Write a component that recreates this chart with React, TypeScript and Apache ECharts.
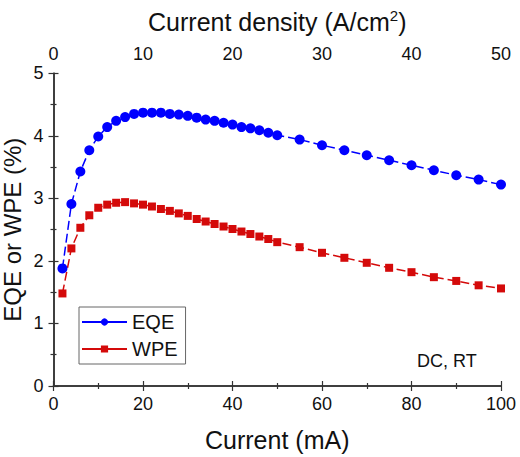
import React, { useEffect, useRef } from "react";
import * as echarts from "echarts";

// Drive current (mA)
const current = [
  2, 4, 6, 8, 10, 12, 14, 16, 18, 20, 22, 24, 26, 28, 30, 32, 34, 36, 38, 40,
  42, 44, 46, 48, 50, 55, 60, 65, 70, 75, 80, 85, 90, 95, 100,
];
// External quantum efficiency (%)
const eqe = [
  1.88, 2.91, 3.43, 3.77, 3.99, 4.14, 4.24, 4.3, 4.35, 4.37, 4.37, 4.37, 4.35,
  4.34, 4.32, 4.29, 4.26, 4.24, 4.21, 4.18, 4.14, 4.12, 4.09, 4.05, 4.01, 3.94,
  3.85, 3.77, 3.69, 3.61, 3.53, 3.45, 3.37, 3.3, 3.22,
];
// Wall-plug efficiency (%)
const wpe = [
  1.48, 2.2, 2.53, 2.73, 2.85, 2.9, 2.93, 2.94, 2.92, 2.9, 2.87, 2.83, 2.8,
  2.76, 2.72, 2.67, 2.63, 2.59, 2.55, 2.51, 2.47, 2.43, 2.39, 2.35, 2.3, 2.22,
  2.13, 2.05, 1.97, 1.89, 1.82, 1.74, 1.68, 1.61, 1.56,
];

const FONT = "Liberation Sans";
const AXIS_COLOR = "#333333";
const BLUE = "#0000ff";
const RED = "#d40a0a";

export default function App() {
  const ref = useRef<HTMLDivElement>(null);

  useEffect(() => {
    if (!ref.current) return;
    const chart = echarts.init(ref.current, undefined, { renderer: "svg" });

    const axisLine = { show: true, lineStyle: { color: AXIS_COLOR, width: 1.5 } };
    const tick = { show: true, inside: true, length: 5, lineStyle: { color: AXIS_COLOR, width: 1.2 } };
    const minor = { show: true, splitNumber: 2, length: 3, lineStyle: { color: AXIS_COLOR, width: 1.2 } };
    const labelStyle = { fontFamily: FONT, fontSize: 18, color: "#111" };
    const nameStyle = { fontFamily: FONT, fontSize: 25, color: "#111" };

    chart.setOption({
      animation: false,
      backgroundColor: "#ffffff",
      textStyle: { fontFamily: FONT },
      grid: {
        left: 53.5,
        right: 19,
        top: 73.3,
        bottom: 71,
        containLabel: false,
        outerBoundsMode: "none",
      },
      legend: {
        left: 79,
        top: 307,
        orient: "vertical",
        itemWidth: 45,
        itemHeight: 9,
        itemGap: 7,
        padding: [5, 8, 5, 2],
        borderColor: "#666",
        borderWidth: 1,
        lineStyle: { type: "solid" },
        textStyle: { fontFamily: FONT, fontSize: 20, color: "#111" },
        data: ["EQE", "WPE"],
      },
      xAxis: [
        {
          type: "value",
          position: "bottom",
          min: 0,
          max: 100,
          interval: 20,
          name: "Current (mA)",
          nameLocation: "middle",
          nameGap: 41,
          nameMoveOverlap: false,
          nameTextStyle: nameStyle,
          axisLine,
          axisTick: tick,
          minorTick: minor,
          splitLine: { show: false },
          axisLabel: { ...labelStyle, margin: 9 },
        },
        {
          type: "value",
          position: "top",
          min: 0,
          max: 50,
          interval: 10,
          name: "Current density (A/cm{sup|2})",
          nameLocation: "middle",
          nameGap: 38,
          nameMoveOverlap: false,
          nameTextStyle: {
            ...nameStyle,
            rich: {
              sup: { fontFamily: FONT, fontSize: 15, color: "#111", verticalAlign: "top", padding: [0, 0, 12, 0] },
            },
          },
          axisLine,
          axisTick: tick,
          minorTick: minor,
          splitLine: { show: false },
          axisLabel: { ...labelStyle, margin: 10 },
        },
      ],
      yAxis: [
        {
          type: "value",
          position: "left",
          min: 0,
          max: 5,
          interval: 1,
          name: "EQE or WPE (%)",
          nameLocation: "middle",
          nameGap: 29,
          nameMoveOverlap: false,
          nameTextStyle: { ...nameStyle, fontSize: 24 },
          axisLine,
          axisTick: tick,
          minorTick: minor,
          splitLine: { show: false },
          axisLabel: { ...labelStyle, margin: 10 },
        },
        {
          type: "value",
          position: "right",
          min: 0,
          max: 5,
          interval: 1,
          axisLine,
          axisTick: tick,
          minorTick: minor,
          splitLine: { show: false },
          axisLabel: { show: false },
        },
      ],
      series: [
        {
          name: "EQE",
          type: "line",
          xAxisIndex: 0,
          yAxisIndex: 0,
          data: current.map((c, i) => [c, eqe[i]]),
          symbol: "circle",
          symbolSize: 10,
          itemStyle: { color: BLUE },
          lineStyle: { color: BLUE, width: 1.5, type: [9, 4] },
        },
        {
          name: "WPE",
          type: "line",
          xAxisIndex: 0,
          yAxisIndex: 0,
          data: current.map((c, i) => [c, wpe[i]]),
          symbol: "rect",
          symbolSize: 8,
          itemStyle: { color: RED },
          lineStyle: { color: RED, width: 1.5, type: [9, 4] },
        },
      ],
      graphic: [
        {
          type: "text",
          left: 417,
          top: 352,
          style: { text: "DC, RT", fontFamily: FONT, fontSize: 18, fill: "#111" },
        },
      ],
    });

    return () => chart.dispose();
  }, []);

  return (
    <div
      ref={ref}
      style={{ position: "fixed", left: 0, top: 0, width: 520, height: 457 }}
    />
  );
}
